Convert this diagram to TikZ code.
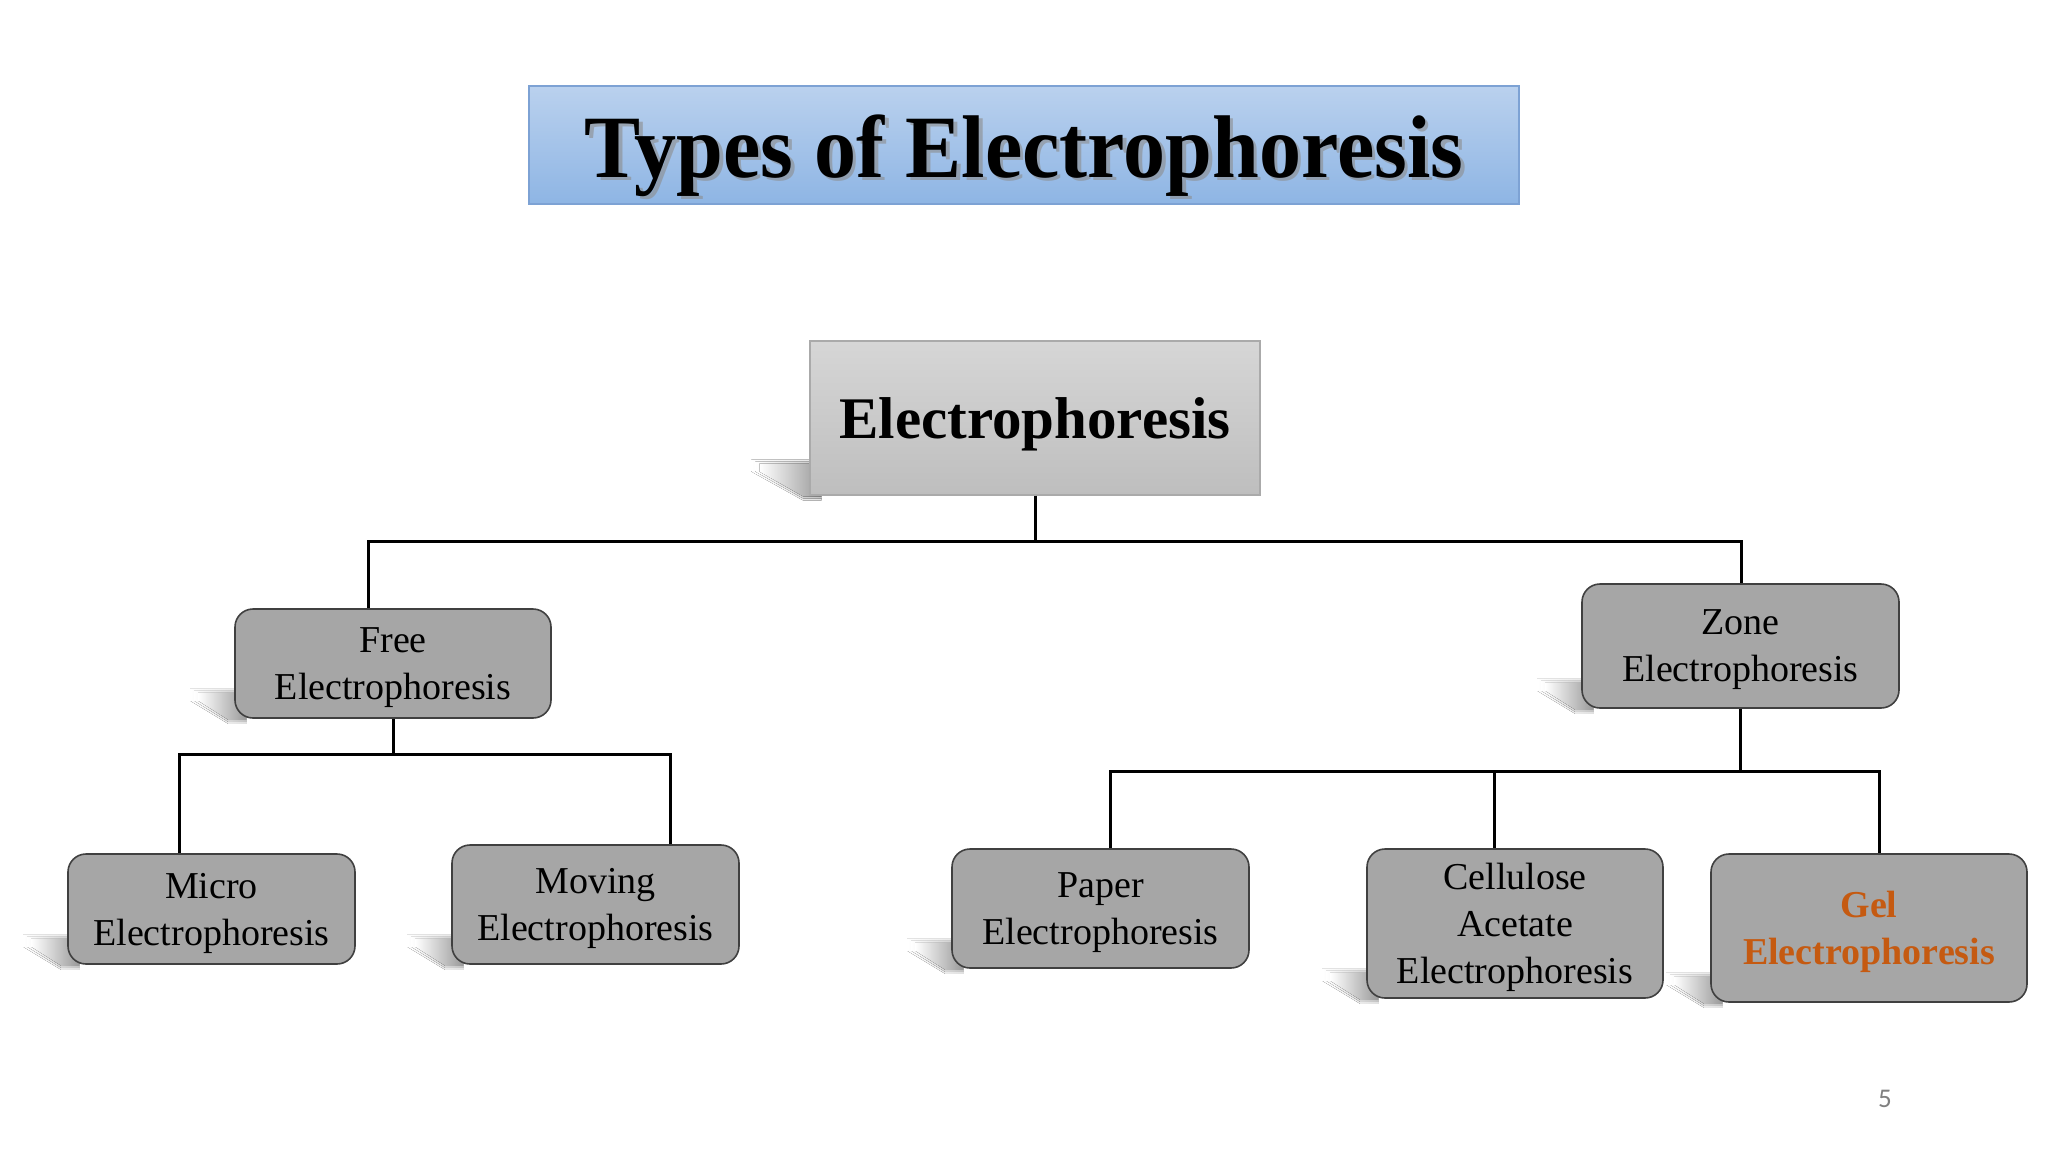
\documentclass[tikz,border=0pt]{standalone}
\usepackage{fontspec}
\usepackage{graphicx}
\setmainfont{Liberation Serif}
\newfontfamily\pgnumfont{Carlito}
\definecolor{titletop}{RGB}{186,209,238}
\definecolor{titlebot}{RGB}{142,181,228}
\definecolor{titleedge}{RGB}{125,162,212}
\definecolor{maintop}{RGB}{214,214,214}
\definecolor{mainbot}{RGB}{190,190,190}
\definecolor{mainedge}{RGB}{170,170,170}
\definecolor{boxfill}{RGB}{166,166,166}
\definecolor{boxedge}{RGB}{64,64,64}
\definecolor{gelorange}{RGB}{197,90,17}
\pgfdeclarelayer{bg}
\pgfsetlayers{bg,main}
% #1 node name, #2 shadow height, #3 shadow length, #4 spread, #5 darkness
\newcommand\shadowlayer[5]{%
  \fill[left color=white, right color=black!#5]
    ([xshift=12pt, yshift={#2pt+#4pt/2}]#1.south west) --
    ([xshift={-#3pt-#4pt}, yshift={#2pt+#4pt/2}]#1.south west) --
    ([xshift={-#3pt-#4pt}, yshift={#2pt-8pt}]#1.south west) --
    ([xshift=-6pt, yshift={-1pt-#4pt/2}]#1.south west) --
    ([xshift=12pt, yshift={-1pt-#4pt/2}]#1.south west) -- cycle;}
\newcommand\boxshadow[3]{%
  \shadowlayer{#1}{#2}{#3}{8}{12}%
  \shadowlayer{#1}{#2}{#3}{4}{24}%
  \shadowlayer{#1}{#2}{#3}{0}{40}}
\begin{document}
\begin{tikzpicture}[x=1pt,y=-1pt,
  gbox/.style={draw=boxedge, line width=1.6pt, fill=boxfill, rounded corners=18pt,
    inner sep=0pt, align=center, text depth=0pt,
    font=\fontsize{38}{47}\selectfont},
  conn/.style={line width=3pt, black}]
\useasboundingbox (0,0) rectangle (2048,1152);

% title
\node[draw=titleedge, line width=1.2pt, top color=titletop, bottom color=titlebot,
      minimum width=990pt, minimum height=118pt, inner sep=0pt] (titlebox) at (1024,145) {};
\node[anchor=base, text=black!45, opacity=0.6, font=\fontsize{89}{89}\selectfont\bfseries]
   (titleshadow) at (1027.5,180.5) {\scalebox{0.945}[1]{Types of Electrophoresis}};
\node[anchor=base, font=\fontsize{89}{89}\selectfont\bfseries]
   (titletext) at (1024,177) {\scalebox{0.945}[1]{Types of Electrophoresis}};

% main box
\node[draw=mainedge, line width=1.2pt, top color=maintop, bottom color=mainbot,
      minimum width=450pt, minimum height=154pt, inner sep=0pt, text depth=0pt,
      font=\fontsize{59}{59}\selectfont\bfseries] (main) at (1035,418) {Electrophoresis};

% second level
\node[gbox, minimum width=316pt, minimum height=109pt] (free) at (393,663.5) {Free\\Electrophoresis};
\node[gbox, minimum width=317pt, minimum height=124pt] (zone) at (1740.5,646) {Zone\\Electrophoresis};

% third level
\node[gbox, minimum width=287pt, minimum height=110pt] (micro) at (211.5,909) {Micro\\Electrophoresis};
\node[gbox, minimum width=287pt, minimum height=119pt] (moving) at (595.5,904.5) {Moving\\Electrophoresis};
\node[gbox, minimum width=297pt, minimum height=119pt] (paper) at (1100.5,908.5) {Paper\\Electrophoresis};
\node[gbox, minimum width=296pt, minimum height=149pt] (cell) at (1515,923.5) {Cellulose\\Acetate\\Electrophoresis};
\node[gbox, minimum width=316pt, minimum height=148pt, text=gelorange,
      font=\fontsize{38}{47}\selectfont\bfseries] (gel) at (1869,928) {Gel\\Electrophoresis};

% shadows
\begin{pgfonlayer}{bg}
  \boxshadow{main}{32}{50}
  \boxshadow{free}{26}{36}
  \boxshadow{zone}{26}{36}
  \boxshadow{micro}{26}{36}
  \boxshadow{moving}{26}{36}
  \boxshadow{paper}{26}{36}
  \boxshadow{cell}{26}{36}
  \boxshadow{gel}{26}{36}
\end{pgfonlayer}

% connectors
\coordinate (busA) at (1036,541);
\coordinate (xa) at (368,541);
\coordinate (xb) at (1741,541);
\draw[conn] (main.south) -- (main.south |- busA);
\draw[conn] (xa |- free.north) -- (xa) -- (xb) -- (xb |- zone.north);

\coordinate (xc) at (179,754);
\coordinate (xd) at (670,754);
\draw[conn] (free.south) -- (free.south |- xc);
\draw[conn] (xc |- micro.north) -- (xc) -- (xd) -- (xd |- moving.north);

\coordinate (xe) at (1110,771);
\coordinate (xf) at (1494,771);
\coordinate (xg) at (1879,771);
\draw[conn] (zone.south) -- (zone.south |- xe);
\draw[conn] (xe |- paper.north) -- (xe) -- (xg) -- (xg |- gel.north);
\draw[conn] (xf) -- (xf |- cell.north);

% page number
\node[text=black!50, font=\fontsize{27}{27}\selectfont\pgnumfont] (pagenum) at (1885,1099) {5};
\end{tikzpicture}
\end{document}
